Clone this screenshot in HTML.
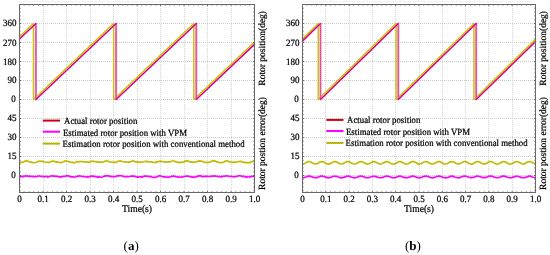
<!DOCTYPE html>
<html><head><meta charset="utf-8"><title>Rotor position estimation</title>
<style>
html,body{margin:0;padding:0;background:#fff;}
svg{display:block;}
text{font-family:'Liberation Serif','Times New Roman',serif;fill:#000;stroke:#000;stroke-width:0.22px;text-rendering:geometricPrecision;}
.gh{stroke:#cbcbcb;stroke-width:1;stroke-dasharray:1 1;fill:none;}
.gv{stroke:#d6d6d6;stroke-width:1;stroke-dasharray:1 1;fill:none;}
.fr{fill:none;stroke:#686868;stroke-width:1;}
.tk{fill:none;stroke:#686868;stroke-width:1;}
.cy{fill:none;stroke:#c2c800;stroke-width:1.5;stroke-linecap:round;}
.cyv{fill:none;stroke:#c4c414;stroke-width:1.5;}
.cm{fill:none;stroke:#f010c0;stroke-width:1.6;stroke-linecap:round;}
.cr{fill:none;stroke:#d00050;stroke-width:0.9;stroke-linecap:round;}
.cmv{fill:none;stroke:#ee70b0;stroke-width:2;}
.crv{fill:none;stroke:#e04890;stroke-width:0.8;}
.ly2{fill:none;stroke:#c0bc00;stroke-width:1.7;stroke-linejoin:round;}
.lm2{fill:none;stroke:#ff00ff;stroke-width:1.7;stroke-linejoin:round;}
.lr{stroke:#cc0010;stroke-width:2;}
.lm{stroke:#ff00ff;stroke-width:2;}
.ly{stroke:#b4b400;stroke-width:2;}
.yl{font-size:9px;text-anchor:end;}
.xl{font-size:9px;text-anchor:middle;}
.xt{font-size:9.6px;text-anchor:middle;}
.rl{font-size:9.5px;text-anchor:middle;}
.lg{font-size:8.8px;}
.pl{font-size:13px;text-anchor:middle;stroke:none;}
</style></head>
<body>
<svg width="550" height="255" viewBox="0 0 550 255">
<rect width="550" height="255" fill="#fff"/>
<path class="gv" d="M43.5 6V192M66.5 6V192M90.5 6V192M113.5 6V192M137.5 6V192M160.5 6V192M184.5 6V192M207.5 6V192M231.5 6V192"/>
<path class="gh" d="M21 23.5H254M21 42.5H254M21 61.5H254M21 80.5H254M21 99.5H254M21 118.5H254M21 137.5H254M21 156.5H254M21 175.5H254"/>
<path class="cyv" d="M33.45 23.5V99.5M113.65 23.5V99.5M193.85 23.5V99.5"/>
<path class="cy" d="M19.5 36.72L33.45 23.5M33.45 99.5L113.65 23.5M113.65 99.5L193.85 23.5M193.85 99.5L254.5 42.03"/>
<path class="cmv" d="M35.9 23.5V99.5M116.1 23.5V99.5M196.3 23.5V99.5"/>
<path class="crv" d="M35.9 23.5V99.5M116.1 23.5V99.5M196.3 23.5V99.5"/>
<path class="cm" d="M19.5 39.04L35.9 23.5M35.9 99.5L116.1 23.5M116.1 99.5L196.3 23.5M196.3 99.5L254.5 44.35"/>
<path class="cr" d="M19.5 39.04L35.9 23.5M35.9 99.5L116.1 23.5M116.1 99.5L196.3 23.5M196.3 99.5L254.5 44.35"/>
<polyline class="ly2" points="19.5,162.29 20.3,162.29 21.1,162.38 21.91,162.36 22.71,162.3 23.51,161.99 24.31,161.47 25.11,161.17 25.92,160.92 26.72,160.97 27.52,161.12 28.32,161.36 29.12,161.86 29.93,161.84 30.73,161.89 31.53,161.94 32.33,162.33 33.13,162.66 33.94,162.76 34.74,162.72 35.54,162.46 36.34,162.18 37.15,161.76 37.95,161.55 38.75,161.25 39.55,161.11 40.35,161.29 41.16,161.18 41.96,161.36 42.76,161.44 43.56,161.77 44.36,162.03 45.17,162.17 45.97,162.27 46.77,162.26 47.57,162.3 48.37,162.36 49.18,162.35 49.98,162.13 50.78,161.57 51.58,161.43 52.38,161.2 53.19,161.1 53.99,161.45 54.79,161.58 55.59,161.55 56.39,162.06 57.2,162.17 58,162.21 58.8,162.38 59.6,162.34 60.4,162.42 61.21,162.65 62.01,162.38 62.81,162.07 63.61,161.65 64.41,161.18 65.22,160.98 66.02,160.92 66.82,161.21 67.62,161.25 68.42,161.57 69.23,161.82 70.03,162.14 70.83,162.32 71.63,162.4 72.44,162.2 73.24,162.61 74.04,162.81 74.84,162.65 75.64,162.24 76.45,161.93 77.25,161.95 78.05,161.96 78.85,161.54 79.65,161.48 80.46,161.62 81.26,161.52 82.06,161.52 82.86,161.71 83.66,161.83 84.47,161.89 85.27,161.78 86.07,161.89 86.87,162.01 87.67,162.08 88.48,162.38 89.28,162.02 90.08,161.67 90.88,161.36 91.68,161.46 92.49,161.35 93.29,161.15 94.09,161.53 94.89,161.67 95.69,161.66 96.5,162.03 97.3,161.85 98.1,161.89 98.9,162.06 99.7,162.14 100.51,162.17 101.31,162.24 102.11,162.04 102.91,162.03 103.72,161.84 104.52,161.37 105.32,161.16 106.12,161.2 106.92,161.07 107.73,161.02 108.53,161.38 109.33,161.84 110.13,161.98 110.93,162.08 111.74,162.19 112.54,162.04 113.34,162.34 114.14,162.21 114.94,162.46 115.75,162.44 116.55,162.07 117.35,161.58 118.15,161.2 118.95,161 119.76,160.97 120.56,161.07 121.36,161.2 122.16,161.49 122.96,161.67 123.77,161.75 124.57,161.9 125.37,161.92 126.17,161.99 126.97,161.85 127.78,162 128.58,162.15 129.38,162.12 130.18,161.88 130.98,161.45 131.79,161.27 132.59,161.06 133.39,160.8 134.19,161.4 134.99,161.72 135.8,161.81 136.6,161.88 137.4,161.95 138.2,162.11 139.01,162.09 139.81,162.17 140.61,162.37 141.41,162.03 142.21,162.01 143.02,161.99 143.82,161.76 144.62,161.51 145.42,161.27 146.22,161.56 147.03,161.54 147.83,161.42 148.63,161.77 149.43,161.91 150.23,161.86 151.04,161.85 151.84,161.76 152.64,162.21 153.44,162.36 154.24,162.47 155.05,162.35 155.85,162.08 156.65,162.31 157.45,161.76 158.25,161.67 159.06,161.28 159.86,161.42 160.66,161.38 161.46,161.32 162.26,161.57 163.07,161.74 163.87,161.77 164.67,161.89 165.47,162.04 166.27,161.93 167.08,161.96 167.88,162.17 168.68,161.79 169.48,161.98 170.28,161.64 171.09,161.46 171.89,161.21 172.69,160.97 173.49,160.98 174.3,161.04 175.1,161.53 175.9,161.95 176.7,161.94 177.5,162.18 178.31,162.36 179.11,162.59 179.91,162.37 180.71,162.31 181.51,162.13 182.32,162.28 183.12,162.1 183.92,161.99 184.72,161.52 185.52,161.03 186.33,161.11 187.13,160.91 187.93,160.99 188.73,161.32 189.53,161.88 190.34,161.77 191.14,161.93 191.94,162.13 192.74,162.16 193.54,162.2 194.35,162.08 195.15,162.33 195.95,162.06 196.75,161.66 197.55,161.25 198.36,161.12 199.16,161.11 199.96,160.92 200.76,161.04 201.56,161.25 202.37,161.28 203.17,161.6 203.97,162.14 204.77,162.24 205.58,162.55 206.38,162.39 207.18,162.39 207.98,162.52 208.78,162.45 209.59,162.14 210.39,161.89 211.19,161.39 211.99,161.19 212.79,160.91 213.6,160.74 214.4,160.73 215.2,161.18 216,161.34 216.8,161.89 217.61,162.16 218.41,162.5 219.21,162.29 220.01,162.54 220.81,162.55 221.62,162.55 222.42,162.44 223.22,162.3 224.02,161.92 224.82,161.31 225.63,161.12 226.43,160.96 227.23,160.89 228.03,161.15 228.83,161.6 229.64,161.86 230.44,161.81 231.24,162.19 232.04,162.32 232.84,162.19 233.65,162.17 234.45,162.28 235.25,162.19 236.05,162.11 236.85,162.11 237.66,162.02 238.46,161.73 239.26,161.28 240.06,161.28 240.87,161.45 241.67,161.67 242.47,162.03 243.27,162.1 244.07,162.32 244.88,162.25 245.68,162.63 246.48,162.53 247.28,162.63 248.08,162.89 248.89,162.6 249.69,162.41 250.49,162.43 251.29,162.1 252.09,161.63 252.9,161.45 253.7,161.22 254.5,161.2"/>
<polyline class="lm2" points="19.5,176.7 20.3,176.74 21.1,176.6 21.91,176.54 22.71,176.44 23.51,176.65 24.31,176.27 25.11,175.92 25.92,175.95 26.72,176.07 27.52,175.88 28.32,176.37 29.12,176.42 29.93,176.16 30.73,176.49 31.53,176.49 32.33,176.33 33.13,176.54 33.94,176.59 34.74,176.55 35.54,176.71 36.34,176.6 37.15,176.37 37.95,176.07 38.75,175.99 39.55,176.01 40.35,176.22 41.16,176.36 41.96,176.32 42.76,176.44 43.56,176.68 44.36,176.84 45.17,176.44 45.97,176.42 46.77,176.49 47.57,177.03 48.37,176.88 49.18,176.7 49.98,176.29 50.78,176.11 51.58,176.01 52.38,175.88 53.19,176.22 53.99,176.09 54.79,176.18 55.59,176.45 56.39,176.35 57.2,176.21 58,176.61 58.8,176.79 59.6,176.8 60.4,176.83 61.21,176.93 62.01,177.02 62.81,176.52 63.61,176.23 64.41,176.29 65.22,176.34 66.02,175.94 66.82,175.84 67.62,175.74 68.42,175.88 69.23,176.28 70.03,176.39 70.83,176.84 71.63,176.95 72.44,176.95 73.24,176.88 74.04,177.03 74.84,177 75.64,176.83 76.45,176.61 77.25,176.33 78.05,176.13 78.85,176.08 79.65,175.92 80.46,176 81.26,176.27 82.06,176.49 82.86,176.58 83.66,176.66 84.47,176.68 85.27,176.73 86.07,176.77 86.87,176.86 87.67,177.08 88.48,176.94 89.28,176.66 90.08,176.45 90.88,176.31 91.68,176.08 92.49,176.15 93.29,176.4 94.09,176.37 94.89,176.57 95.69,176.5 96.5,176.75 97.3,177.17 98.1,177.22 98.9,176.88 99.7,176.96 100.51,177.18 101.31,177.23 102.11,177 102.91,176.75 103.72,176.52 104.52,176.09 105.32,175.88 106.12,175.88 106.92,175.86 107.73,175.78 108.53,175.89 109.33,175.99 110.13,176.4 110.93,176.54 111.74,176.52 112.54,176.68 113.34,176.61 114.14,176.63 114.94,176.57 115.75,176.63 116.55,176.14 117.35,175.91 118.15,175.9 118.95,175.85 119.76,175.49 120.56,175.76 121.36,175.85 122.16,175.95 122.96,176.2 123.77,176.55 124.57,176.6 125.37,176.62 126.17,176.54 126.97,176.56 127.78,176.68 128.58,176.59 129.38,176.49 130.18,176.37 130.98,176.22 131.79,176.12 132.59,175.92 133.39,176.12 134.19,176.27 134.99,176.36 135.8,176.69 136.6,176.79 137.4,177.1 138.2,177.12 139.01,176.96 139.81,176.87 140.61,176.92 141.41,176.96 142.21,177.11 143.02,176.62 143.82,176.38 144.62,176.05 145.42,176.1 146.22,176.06 147.03,176.36 147.83,176.25 148.63,176.23 149.43,176.67 150.23,176.72 151.04,176.65 151.84,176.97 152.64,177.23 153.44,177.32 154.24,177.32 155.05,177.4 155.85,177.17 156.65,176.87 157.45,176.51 158.25,176.18 159.06,175.83 159.86,175.69 160.66,176.05 161.46,176.26 162.26,176.55 163.07,176.78 163.87,176.8 164.67,176.8 165.47,176.74 166.27,177.04 167.08,177.22 167.88,177.15 168.68,177.08 169.48,176.96 170.28,176.74 171.09,176.6 171.89,176.24 172.69,176.06 173.49,176.07 174.3,176.24 175.1,176.37 175.9,176.89 176.7,177.01 177.5,176.94 178.31,177.13 179.11,177.02 179.91,176.98 180.71,177.2 181.51,177.16 182.32,177.08 183.12,176.81 183.92,176.5 184.72,176.3 185.52,176.27 186.33,176.17 187.13,176.17 187.93,176.13 188.73,176.24 189.53,176.5 190.34,176.8 191.14,176.85 191.94,176.96 192.74,177.11 193.54,177.09 194.35,177.14 195.15,177.05 195.95,176.85 196.75,176.74 197.55,176.16 198.36,176.1 199.16,175.83 199.96,175.85 200.76,175.79 201.56,176.36 202.37,176.58 203.17,176.6 203.97,176.57 204.77,176.28 205.58,176.4 206.38,176.37 207.18,176.44 207.98,176.46 208.78,176.49 209.59,176.53 210.39,176.35 211.19,176.38 211.99,176.01 212.79,176.11 213.6,176.05 214.4,175.81 215.2,176.07 216,176.26 216.8,176.25 217.61,176.41 218.41,176.65 219.21,176.68 220.01,176.68 220.81,176.67 221.62,176.87 222.42,176.56 223.22,176.26 224.02,176.21 224.82,176.05 225.63,176.03 226.43,175.77 227.23,175.98 228.03,176.01 228.83,176.27 229.64,176.52 230.44,176.49 231.24,176.38 232.04,176.52 232.84,176.74 233.65,176.69 234.45,176.79 235.25,176.77 236.05,176.5 236.85,176.27 237.66,176.26 238.46,175.77 239.26,175.77 240.06,175.71 240.87,175.96 241.67,176.13 242.47,176.56 243.27,176.36 244.07,176.28 244.88,176.62 245.68,176.92 246.48,177.17 247.28,176.94 248.08,177.02 248.89,176.97 249.69,176.89 250.49,176.69 251.29,176.62 252.09,176.36 252.9,176.42 253.7,176.31 254.5,176.27"/>
<path class="tk" d="M19.5 4.5v1.6M19.5 192.5v-1.6M24.2 4.5v1.1M24.2 192.5v-1.1M28.9 4.5v1.1M28.9 192.5v-1.1M33.6 4.5v1.1M33.6 192.5v-1.1M38.3 4.5v1.1M38.3 192.5v-1.1M43 4.5v1.6M43 192.5v-1.6M47.7 4.5v1.1M47.7 192.5v-1.1M52.4 4.5v1.1M52.4 192.5v-1.1M57.1 4.5v1.1M57.1 192.5v-1.1M61.8 4.5v1.1M61.8 192.5v-1.1M66.5 4.5v1.6M66.5 192.5v-1.6M71.2 4.5v1.1M71.2 192.5v-1.1M75.9 4.5v1.1M75.9 192.5v-1.1M80.6 4.5v1.1M80.6 192.5v-1.1M85.3 4.5v1.1M85.3 192.5v-1.1M90 4.5v1.6M90 192.5v-1.6M94.7 4.5v1.1M94.7 192.5v-1.1M99.4 4.5v1.1M99.4 192.5v-1.1M104.1 4.5v1.1M104.1 192.5v-1.1M108.8 4.5v1.1M108.8 192.5v-1.1M113.5 4.5v1.6M113.5 192.5v-1.6M118.2 4.5v1.1M118.2 192.5v-1.1M122.9 4.5v1.1M122.9 192.5v-1.1M127.6 4.5v1.1M127.6 192.5v-1.1M132.3 4.5v1.1M132.3 192.5v-1.1M137 4.5v1.6M137 192.5v-1.6M141.7 4.5v1.1M141.7 192.5v-1.1M146.4 4.5v1.1M146.4 192.5v-1.1M151.1 4.5v1.1M151.1 192.5v-1.1M155.8 4.5v1.1M155.8 192.5v-1.1M160.5 4.5v1.6M160.5 192.5v-1.6M165.2 4.5v1.1M165.2 192.5v-1.1M169.9 4.5v1.1M169.9 192.5v-1.1M174.6 4.5v1.1M174.6 192.5v-1.1M179.3 4.5v1.1M179.3 192.5v-1.1M184 4.5v1.6M184 192.5v-1.6M188.7 4.5v1.1M188.7 192.5v-1.1M193.4 4.5v1.1M193.4 192.5v-1.1M198.1 4.5v1.1M198.1 192.5v-1.1M202.8 4.5v1.1M202.8 192.5v-1.1M207.5 4.5v1.6M207.5 192.5v-1.6M212.2 4.5v1.1M212.2 192.5v-1.1M216.9 4.5v1.1M216.9 192.5v-1.1M221.6 4.5v1.1M221.6 192.5v-1.1M226.3 4.5v1.1M226.3 192.5v-1.1M231 4.5v1.6M231 192.5v-1.6M235.7 4.5v1.1M235.7 192.5v-1.1M240.4 4.5v1.1M240.4 192.5v-1.1M245.1 4.5v1.1M245.1 192.5v-1.1M249.8 4.5v1.1M249.8 192.5v-1.1M254.5 4.5v1.6M254.5 192.5v-1.6M19.5 4.5h1.6M254.5 4.5h-1.6M19.5 8.3h1.1M254.5 8.3h-1.1M19.5 12.1h1.1M254.5 12.1h-1.1M19.5 15.9h1.1M254.5 15.9h-1.1M19.5 19.7h1.1M254.5 19.7h-1.1M19.5 23.5h1.6M254.5 23.5h-1.6M19.5 27.3h1.1M254.5 27.3h-1.1M19.5 31.1h1.1M254.5 31.1h-1.1M19.5 34.9h1.1M254.5 34.9h-1.1M19.5 38.7h1.1M254.5 38.7h-1.1M19.5 42.5h1.6M254.5 42.5h-1.6M19.5 46.3h1.1M254.5 46.3h-1.1M19.5 50.1h1.1M254.5 50.1h-1.1M19.5 53.9h1.1M254.5 53.9h-1.1M19.5 57.7h1.1M254.5 57.7h-1.1M19.5 61.5h1.6M254.5 61.5h-1.6M19.5 65.3h1.1M254.5 65.3h-1.1M19.5 69.1h1.1M254.5 69.1h-1.1M19.5 72.9h1.1M254.5 72.9h-1.1M19.5 76.7h1.1M254.5 76.7h-1.1M19.5 80.5h1.6M254.5 80.5h-1.6M19.5 84.3h1.1M254.5 84.3h-1.1M19.5 88.1h1.1M254.5 88.1h-1.1M19.5 91.9h1.1M254.5 91.9h-1.1M19.5 95.7h1.1M254.5 95.7h-1.1M19.5 99.5h1.6M254.5 99.5h-1.6M19.5 103.3h1.1M254.5 103.3h-1.1M19.5 107.1h1.1M254.5 107.1h-1.1M19.5 110.9h1.1M254.5 110.9h-1.1M19.5 114.7h1.1M254.5 114.7h-1.1M19.5 118.5h1.6M254.5 118.5h-1.6M19.5 122.3h1.1M254.5 122.3h-1.1M19.5 126.1h1.1M254.5 126.1h-1.1M19.5 129.9h1.1M254.5 129.9h-1.1M19.5 133.7h1.1M254.5 133.7h-1.1M19.5 137.5h1.6M254.5 137.5h-1.6M19.5 141.3h1.1M254.5 141.3h-1.1M19.5 145.1h1.1M254.5 145.1h-1.1M19.5 148.9h1.1M254.5 148.9h-1.1M19.5 152.7h1.1M254.5 152.7h-1.1M19.5 156.5h1.6M254.5 156.5h-1.6M19.5 160.3h1.1M254.5 160.3h-1.1M19.5 164.1h1.1M254.5 164.1h-1.1M19.5 167.9h1.1M254.5 167.9h-1.1M19.5 171.7h1.1M254.5 171.7h-1.1M19.5 175.5h1.6M254.5 175.5h-1.6M19.5 179.3h1.1M254.5 179.3h-1.1M19.5 183.1h1.1M254.5 183.1h-1.1M19.5 186.9h1.1M254.5 186.9h-1.1M19.5 190.7h1.1M254.5 190.7h-1.1"/>
<line x1="19.5" y1="1.5" x2="250.5" y2="1.5" stroke="#f0f0f0" stroke-width="1"/>
<rect x="19.5" y="4.5" width="235" height="188" class="fr"/>
<text transform="translate(16.5,25.7) scale(1,1.07)" class="yl">360</text>
<text transform="translate(16.5,46) scale(1,1.07)" class="yl">270</text>
<text transform="translate(16.5,65) scale(1,1.07)" class="yl">180</text>
<text transform="translate(16.5,82.8) scale(1,1.07)" class="yl">90</text>
<text transform="translate(15.8,101.7) scale(1,1.07)" class="yl">0</text>
<text transform="translate(16.5,120.5) scale(1,1.07)" class="yl">45</text>
<text transform="translate(16.5,139.5) scale(1,1.07)" class="yl">30</text>
<text transform="translate(16.5,158.7) scale(1,1.07)" class="yl">15</text>
<text transform="translate(15.8,177.6) scale(1,1.07)" class="yl">0</text>
<text transform="translate(19.5,201.8) scale(1,1.07)" class="xl">0</text>
<text transform="translate(43,201.8) scale(1,1.07)" class="xl">0.1</text>
<text transform="translate(66.5,201.8) scale(1,1.07)" class="xl">0.2</text>
<text transform="translate(90,201.8) scale(1,1.07)" class="xl">0.3</text>
<text transform="translate(113.5,201.8) scale(1,1.07)" class="xl">0.4</text>
<text transform="translate(137,201.8) scale(1,1.07)" class="xl">0.5</text>
<text transform="translate(160.5,201.8) scale(1,1.07)" class="xl">0.6</text>
<text transform="translate(184,201.8) scale(1,1.07)" class="xl">0.7</text>
<text transform="translate(207.5,201.8) scale(1,1.07)" class="xl">0.8</text>
<text transform="translate(231,201.8) scale(1,1.07)" class="xl">0.9</text>
<text transform="translate(254.5,201.8) scale(1,1.07)" class="xl">1.0</text>
<text transform="translate(137,212.3) scale(1,1.07)" class="xt">Time(s)</text>
<text transform="translate(264.9,48.3) rotate(-90)" class="rl">Rotor position(deg)</text>
<text transform="translate(264.9,143.5) rotate(-90)" class="rl">Rotor postion error(deg)</text>
<line x1="42.8" y1="120.6" x2="60" y2="120.6" class="lr"/>
<text transform="translate(64.1,123.9) scale(1,1.07)" class="lg">Actual rotor position</text>
<line x1="42.8" y1="131.7" x2="60" y2="131.7" class="lm"/>
<text transform="translate(63,135.6) scale(1,1.07)" class="lg">Estimated rotor position with VPM</text>
<line x1="42.8" y1="143.6" x2="60" y2="143.6" class="ly"/>
<text transform="translate(62.6,146.9) scale(1,1.07)" class="lg">Estimation rotor position with conventional method</text>
<text x="131.2" y="250.2" class="pl">(<tspan font-weight="bold">a</tspan>)</text>
<path class="gv" d="M325.5 6V192M349.5 6V192M372.5 6V192M395.5 6V192M419.5 6V192M442.5 6V192M465.5 6V192M488.5 6V192M512.5 6V192"/>
<path class="gh" d="M304 23.5H535M304 42.5H535M304 61.5H535M304 80.5H535M304 99.5H535M304 118.5H535M304 137.5H535M304 156.5H535M304 175.5H535"/>
<path class="cyv" d="M318.25 23.5V99.5M396.05 23.5V99.5M473.95 23.5V99.5"/>
<path class="cy" d="M302.5 38.88L318.25 23.5M318.25 99.5L396.05 23.5M396.05 99.5L473.95 23.5M473.95 99.5L535.5 39.41"/>
<path class="cmv" d="M320.5 23.5V99.5M398.3 23.5V99.5M476.2 23.5V99.5"/>
<path class="crv" d="M320.5 23.5V99.5M398.3 23.5V99.5M476.2 23.5V99.5"/>
<path class="cm" d="M302.5 41.07L320.5 23.5M320.5 99.5L398.3 23.5M398.3 99.5L476.2 23.5M476.2 99.5L535.5 41.61"/>
<path class="cr" d="M302.5 41.07L320.5 23.5M320.5 99.5L398.3 23.5M398.3 99.5L476.2 23.5M476.2 99.5L535.5 41.61"/>
<polyline class="ly2" points="302.5,164.01 303.3,163.95 304.1,163.75 304.9,163.35 305.7,162.92 306.5,162.37 307.3,161.95 308.1,161.7 308.91,161.62 309.71,161.72 310.51,161.99 311.31,162.36 312.11,162.77 312.91,163.2 313.71,163.57 314.51,163.77 315.31,163.98 316.11,163.95 316.91,163.6 317.71,163.39 318.51,162.98 319.31,162.51 320.12,162.09 320.92,161.77 321.72,161.63 322.52,161.64 323.32,161.85 324.12,162.16 324.92,162.7 325.72,163.19 326.52,163.59 327.32,163.94 328.12,164.14 328.92,164.06 329.72,163.9 330.52,163.51 331.32,163.04 332.13,162.57 332.93,162.13 333.73,161.81 334.53,161.71 335.33,161.68 336.13,161.82 336.93,162.16 337.73,162.58 338.53,162.99 339.33,163.48 340.13,163.78 340.93,163.9 341.73,163.98 342.53,163.84 343.34,163.56 344.14,163.07 344.94,162.62 345.74,162.16 346.54,161.86 347.34,161.66 348.14,161.62 348.94,161.84 349.74,162.04 350.54,162.4 351.34,162.97 352.14,163.36 352.94,163.74 353.74,163.95 354.54,164 355.35,163.98 356.15,163.7 356.95,163.21 357.75,162.79 358.55,162.39 359.35,162.07 360.15,161.85 360.95,161.71 361.75,161.69 362.55,161.94 363.35,162.33 364.15,162.68 364.95,163.21 365.75,163.65 366.55,163.9 367.36,163.98 368.16,163.97 368.96,163.78 369.76,163.37 370.56,162.9 371.36,162.51 372.16,162.09 372.96,161.82 373.76,161.66 374.56,161.72 375.36,161.94 376.16,162.32 376.96,162.7 377.76,163.1 378.57,163.55 379.37,163.82 380.17,164.02 380.97,163.98 381.77,163.73 382.57,163.32 383.37,162.93 384.17,162.49 384.97,162.07 385.77,161.85 386.57,161.68 387.37,161.72 388.17,161.88 388.97,162.27 389.77,162.79 390.58,163.2 391.38,163.58 392.18,163.91 392.98,164.02 393.78,164.03 394.58,163.88 395.38,163.51 396.18,163.16 396.98,162.71 397.78,162.25 398.58,161.85 399.38,161.67 400.18,161.64 400.98,161.83 401.79,162.12 402.59,162.46 403.39,162.98 404.19,163.31 404.99,163.73 405.79,163.95 406.59,163.99 407.39,163.8 408.19,163.59 408.99,163.28 409.79,162.76 410.59,162.26 411.39,161.87 412.19,161.53 412.99,161.51 413.8,161.66 414.6,161.93 415.4,162.35 416.2,162.75 417,163.31 417.8,163.72 418.6,164.13 419.4,164.11 420.2,164 421,163.66 421.8,163.16 422.6,162.73 423.4,162.31 424.2,161.97 425.01,161.76 425.81,161.69 426.61,161.73 427.41,161.98 428.21,162.36 429.01,162.82 429.81,163.23 430.61,163.61 431.41,163.9 432.21,163.98 433.01,163.93 433.81,163.76 434.61,163.3 435.41,162.84 436.21,162.45 437.02,161.99 437.82,161.71 438.62,161.68 439.42,161.64 440.22,161.86 441.02,162.19 441.82,162.65 442.62,163.14 443.42,163.64 444.22,163.87 445.02,164.02 445.82,164 446.62,163.77 447.42,163.42 448.23,162.95 449.03,162.52 449.83,162.11 450.63,161.91 451.43,161.74 452.23,161.69 453.03,161.81 453.83,162.18 454.63,162.62 455.43,163 456.23,163.47 457.03,163.77 457.83,163.88 458.63,163.92 459.43,163.71 460.24,163.46 461.04,163.04 461.84,162.6 462.64,162.17 463.44,161.78 464.24,161.49 465.04,161.56 465.84,161.77 466.64,162.06 467.44,162.55 468.24,162.98 469.04,163.39 469.84,163.77 470.64,163.96 471.45,164.08 472.25,163.89 473.05,163.67 473.85,163.27 474.65,162.81 475.45,162.36 476.25,161.93 477.05,161.7 477.85,161.66 478.65,161.75 479.45,161.95 480.25,162.38 481.05,162.84 481.85,163.24 482.65,163.63 483.46,163.97 484.26,163.91 485.06,163.73 485.86,163.63 486.66,163.25 487.46,162.78 488.26,162.29 489.06,161.89 489.86,161.68 490.66,161.65 491.46,161.73 492.26,161.92 493.06,162.37 493.86,162.87 494.66,163.31 495.47,163.79 496.27,164.03 497.07,164.13 497.87,164.01 498.67,163.8 499.47,163.45 500.27,163 501.07,162.51 501.87,162.13 502.67,161.82 503.47,161.63 504.27,161.62 505.07,161.78 505.87,162.21 506.68,162.69 507.48,163.28 508.28,163.57 509.08,163.91 509.88,164.05 510.68,163.98 511.48,163.85 512.28,163.46 513.08,163.02 513.88,162.65 514.68,162.18 515.48,161.79 516.28,161.73 517.08,161.67 517.88,161.85 518.69,162.16 519.49,162.57 520.29,162.98 521.09,163.45 521.89,163.75 522.69,163.97 523.49,163.95 524.29,163.84 525.09,163.53 525.89,163.02 526.69,162.56 527.49,162.15 528.29,161.89 529.09,161.72 529.9,161.67 530.7,161.77 531.5,162.06 532.3,162.46 533.1,162.94 533.9,163.33 534.7,163.73 535.5,163.98"/>
<polyline class="lm2" points="302.5,177.73 303.3,177.69 304.1,177.54 304.9,177.32 305.7,177.02 306.5,176.66 307.3,176.38 308.1,176.26 308.91,176.14 309.71,176.17 310.51,176.38 311.31,176.58 312.11,176.9 312.91,177.23 313.71,177.46 314.51,177.6 315.31,177.75 316.11,177.71 316.91,177.62 317.71,177.25 318.51,177 319.31,176.64 320.12,176.42 320.92,176.18 321.72,175.98 322.52,176.18 323.32,176.33 324.12,176.53 324.92,176.83 325.72,177.18 326.52,177.35 327.32,177.59 328.12,177.81 328.92,177.75 329.72,177.71 330.52,177.41 331.32,177.14 332.13,176.81 332.93,176.45 333.73,176.23 334.53,176.19 335.33,176.26 336.13,176.28 336.93,176.45 337.73,176.79 338.53,177.05 339.33,177.34 340.13,177.55 340.93,177.82 341.73,177.84 342.53,177.67 343.34,177.43 344.14,177.11 344.94,176.94 345.74,176.61 346.54,176.32 347.34,176.04 348.14,176.1 348.94,176.22 349.74,176.41 350.54,176.65 351.34,177 352.14,177.25 352.94,177.57 353.74,177.72 354.54,177.79 355.35,177.7 356.15,177.55 356.95,177.35 357.75,176.95 358.55,176.62 359.35,176.39 360.15,176.2 360.95,176.09 361.75,176.22 362.55,176.39 363.35,176.63 364.15,176.91 364.95,177.25 365.75,177.63 366.55,177.72 367.36,177.77 368.16,177.72 368.96,177.57 369.76,177.3 370.56,177.01 371.36,176.75 372.16,176.49 372.96,176.3 373.76,176.23 374.56,176.3 375.36,176.39 376.16,176.68 376.96,176.92 377.76,177.28 378.57,177.52 379.37,177.64 380.17,177.73 380.97,177.76 381.77,177.61 382.57,177.36 383.37,177.15 384.17,176.83 384.97,176.51 385.77,176.31 386.57,176.18 387.37,176.15 388.17,176.25 388.97,176.45 389.77,176.74 390.58,177.09 391.38,177.4 392.18,177.64 392.98,177.78 393.78,177.78 394.58,177.74 395.38,177.5 396.18,177.19 396.98,176.9 397.78,176.58 398.58,176.3 399.38,176.18 400.18,176.05 400.98,176.32 401.79,176.53 402.59,176.89 403.39,177.12 404.19,177.27 404.99,177.66 405.79,177.78 406.59,177.77 407.39,177.69 408.19,177.45 408.99,177.29 409.79,176.9 410.59,176.57 411.39,176.32 412.19,176.2 412.99,176.12 413.8,176.24 414.6,176.42 415.4,176.72 416.2,177.14 417,177.41 417.8,177.62 418.6,177.73 419.4,177.82 420.2,177.74 421,177.51 421.8,177.24 422.6,176.87 423.4,176.48 424.2,176.31 425.01,176.25 425.81,176.13 426.61,176.11 427.41,176.27 428.21,176.52 429.01,176.89 429.81,177.26 430.61,177.48 431.41,177.72 432.21,177.88 433.01,177.85 433.81,177.53 434.61,177.18 435.41,176.95 436.21,176.69 437.02,176.4 437.82,176.25 438.62,176.09 439.42,176.14 440.22,176.36 441.02,176.53 441.82,176.88 442.62,177.18 443.42,177.47 444.22,177.69 445.02,177.77 445.82,177.78 446.62,177.72 447.42,177.56 448.23,177.27 449.03,176.93 449.83,176.59 450.63,176.34 451.43,176.17 452.23,176.17 453.03,176.34 453.83,176.59 454.63,176.97 455.43,177.25 456.23,177.48 457.03,177.66 457.83,177.78 458.63,177.78 459.43,177.61 460.24,177.4 461.04,177.08 461.84,176.75 462.64,176.46 463.44,176.18 464.24,176.11 465.04,176.13 465.84,176.28 466.64,176.53 467.44,176.71 468.24,176.95 469.04,177.29 469.84,177.52 470.64,177.63 471.45,177.65 472.25,177.53 473.05,177.44 473.85,177.2 474.65,176.86 475.45,176.49 476.25,176.26 477.05,176.17 477.85,176.15 478.65,176.26 479.45,176.49 480.25,176.66 481.05,177.02 481.85,177.32 482.65,177.46 483.46,177.6 484.26,177.67 485.06,177.66 485.86,177.47 486.66,177.14 487.46,176.83 488.26,176.49 489.06,176.27 489.86,176.1 490.66,176.07 491.46,176.13 492.26,176.25 493.06,176.62 493.86,176.93 494.66,177.24 495.47,177.54 496.27,177.73 497.07,177.76 497.87,177.62 498.67,177.46 499.47,177.22 500.27,177.02 501.07,176.61 501.87,176.35 502.67,176.18 503.47,176.16 504.27,176.19 505.07,176.39 505.87,176.61 506.68,176.88 507.48,177.19 508.28,177.46 509.08,177.71 509.88,177.73 510.68,177.75 511.48,177.7 512.28,177.45 513.08,177.17 513.88,176.87 514.68,176.57 515.48,176.31 516.28,176.24 517.08,176.23 517.88,176.26 518.69,176.46 519.49,176.78 520.29,177.1 521.09,177.4 521.89,177.63 522.69,177.72 523.49,177.74 524.29,177.75 525.09,177.5 525.89,177.24 526.69,176.86 527.49,176.58 528.29,176.32 529.09,176.07 529.9,176.13 530.7,176.3 531.5,176.56 532.3,176.94 533.1,177.29 533.9,177.5 534.7,177.73 535.5,177.93"/>
<path class="tk" d="M302.5 4.5v1.6M302.5 192.5v-1.6M307.16 4.5v1.1M307.16 192.5v-1.1M311.82 4.5v1.1M311.82 192.5v-1.1M316.48 4.5v1.1M316.48 192.5v-1.1M321.14 4.5v1.1M321.14 192.5v-1.1M325.8 4.5v1.6M325.8 192.5v-1.6M330.46 4.5v1.1M330.46 192.5v-1.1M335.12 4.5v1.1M335.12 192.5v-1.1M339.78 4.5v1.1M339.78 192.5v-1.1M344.44 4.5v1.1M344.44 192.5v-1.1M349.1 4.5v1.6M349.1 192.5v-1.6M353.76 4.5v1.1M353.76 192.5v-1.1M358.42 4.5v1.1M358.42 192.5v-1.1M363.08 4.5v1.1M363.08 192.5v-1.1M367.74 4.5v1.1M367.74 192.5v-1.1M372.4 4.5v1.6M372.4 192.5v-1.6M377.06 4.5v1.1M377.06 192.5v-1.1M381.72 4.5v1.1M381.72 192.5v-1.1M386.38 4.5v1.1M386.38 192.5v-1.1M391.04 4.5v1.1M391.04 192.5v-1.1M395.7 4.5v1.6M395.7 192.5v-1.6M400.36 4.5v1.1M400.36 192.5v-1.1M405.02 4.5v1.1M405.02 192.5v-1.1M409.68 4.5v1.1M409.68 192.5v-1.1M414.34 4.5v1.1M414.34 192.5v-1.1M419 4.5v1.6M419 192.5v-1.6M423.66 4.5v1.1M423.66 192.5v-1.1M428.32 4.5v1.1M428.32 192.5v-1.1M432.98 4.5v1.1M432.98 192.5v-1.1M437.64 4.5v1.1M437.64 192.5v-1.1M442.3 4.5v1.6M442.3 192.5v-1.6M446.96 4.5v1.1M446.96 192.5v-1.1M451.62 4.5v1.1M451.62 192.5v-1.1M456.28 4.5v1.1M456.28 192.5v-1.1M460.94 4.5v1.1M460.94 192.5v-1.1M465.6 4.5v1.6M465.6 192.5v-1.6M470.26 4.5v1.1M470.26 192.5v-1.1M474.92 4.5v1.1M474.92 192.5v-1.1M479.58 4.5v1.1M479.58 192.5v-1.1M484.24 4.5v1.1M484.24 192.5v-1.1M488.9 4.5v1.6M488.9 192.5v-1.6M493.56 4.5v1.1M493.56 192.5v-1.1M498.22 4.5v1.1M498.22 192.5v-1.1M502.88 4.5v1.1M502.88 192.5v-1.1M507.54 4.5v1.1M507.54 192.5v-1.1M512.2 4.5v1.6M512.2 192.5v-1.6M516.86 4.5v1.1M516.86 192.5v-1.1M521.52 4.5v1.1M521.52 192.5v-1.1M526.18 4.5v1.1M526.18 192.5v-1.1M530.84 4.5v1.1M530.84 192.5v-1.1M535.5 4.5v1.6M535.5 192.5v-1.6M302.5 4.5h1.6M535.5 4.5h-1.6M302.5 8.3h1.1M535.5 8.3h-1.1M302.5 12.1h1.1M535.5 12.1h-1.1M302.5 15.9h1.1M535.5 15.9h-1.1M302.5 19.7h1.1M535.5 19.7h-1.1M302.5 23.5h1.6M535.5 23.5h-1.6M302.5 27.3h1.1M535.5 27.3h-1.1M302.5 31.1h1.1M535.5 31.1h-1.1M302.5 34.9h1.1M535.5 34.9h-1.1M302.5 38.7h1.1M535.5 38.7h-1.1M302.5 42.5h1.6M535.5 42.5h-1.6M302.5 46.3h1.1M535.5 46.3h-1.1M302.5 50.1h1.1M535.5 50.1h-1.1M302.5 53.9h1.1M535.5 53.9h-1.1M302.5 57.7h1.1M535.5 57.7h-1.1M302.5 61.5h1.6M535.5 61.5h-1.6M302.5 65.3h1.1M535.5 65.3h-1.1M302.5 69.1h1.1M535.5 69.1h-1.1M302.5 72.9h1.1M535.5 72.9h-1.1M302.5 76.7h1.1M535.5 76.7h-1.1M302.5 80.5h1.6M535.5 80.5h-1.6M302.5 84.3h1.1M535.5 84.3h-1.1M302.5 88.1h1.1M535.5 88.1h-1.1M302.5 91.9h1.1M535.5 91.9h-1.1M302.5 95.7h1.1M535.5 95.7h-1.1M302.5 99.5h1.6M535.5 99.5h-1.6M302.5 103.3h1.1M535.5 103.3h-1.1M302.5 107.1h1.1M535.5 107.1h-1.1M302.5 110.9h1.1M535.5 110.9h-1.1M302.5 114.7h1.1M535.5 114.7h-1.1M302.5 118.5h1.6M535.5 118.5h-1.6M302.5 122.3h1.1M535.5 122.3h-1.1M302.5 126.1h1.1M535.5 126.1h-1.1M302.5 129.9h1.1M535.5 129.9h-1.1M302.5 133.7h1.1M535.5 133.7h-1.1M302.5 137.5h1.6M535.5 137.5h-1.6M302.5 141.3h1.1M535.5 141.3h-1.1M302.5 145.1h1.1M535.5 145.1h-1.1M302.5 148.9h1.1M535.5 148.9h-1.1M302.5 152.7h1.1M535.5 152.7h-1.1M302.5 156.5h1.6M535.5 156.5h-1.6M302.5 160.3h1.1M535.5 160.3h-1.1M302.5 164.1h1.1M535.5 164.1h-1.1M302.5 167.9h1.1M535.5 167.9h-1.1M302.5 171.7h1.1M535.5 171.7h-1.1M302.5 175.5h1.6M535.5 175.5h-1.6M302.5 179.3h1.1M535.5 179.3h-1.1M302.5 183.1h1.1M535.5 183.1h-1.1M302.5 186.9h1.1M535.5 186.9h-1.1M302.5 190.7h1.1M535.5 190.7h-1.1"/>
<line x1="302.5" y1="1.5" x2="531.5" y2="1.5" stroke="#f0f0f0" stroke-width="1"/>
<rect x="302.5" y="4.5" width="233" height="188" class="fr"/>
<text transform="translate(299.5,25.7) scale(1,1.07)" class="yl">360</text>
<text transform="translate(299.5,46) scale(1,1.07)" class="yl">270</text>
<text transform="translate(299.5,65) scale(1,1.07)" class="yl">180</text>
<text transform="translate(299.5,82.8) scale(1,1.07)" class="yl">90</text>
<text transform="translate(298.8,101.7) scale(1,1.07)" class="yl">0</text>
<text transform="translate(299.5,120.5) scale(1,1.07)" class="yl">45</text>
<text transform="translate(299.5,139.5) scale(1,1.07)" class="yl">30</text>
<text transform="translate(299.5,158.7) scale(1,1.07)" class="yl">15</text>
<text transform="translate(298.8,177.6) scale(1,1.07)" class="yl">0</text>
<text transform="translate(302.5,201.8) scale(1,1.07)" class="xl">0</text>
<text transform="translate(325.8,201.8) scale(1,1.07)" class="xl">0.1</text>
<text transform="translate(349.1,201.8) scale(1,1.07)" class="xl">0.2</text>
<text transform="translate(372.4,201.8) scale(1,1.07)" class="xl">0.3</text>
<text transform="translate(395.7,201.8) scale(1,1.07)" class="xl">0.4</text>
<text transform="translate(419,201.8) scale(1,1.07)" class="xl">0.5</text>
<text transform="translate(442.3,201.8) scale(1,1.07)" class="xl">0.6</text>
<text transform="translate(465.6,201.8) scale(1,1.07)" class="xl">0.7</text>
<text transform="translate(488.9,201.8) scale(1,1.07)" class="xl">0.8</text>
<text transform="translate(512.2,201.8) scale(1,1.07)" class="xl">0.9</text>
<text transform="translate(535.5,201.8) scale(1,1.07)" class="xl">1.0</text>
<text transform="translate(419,212.3) scale(1,1.07)" class="xt">Time(s)</text>
<text transform="translate(545.9,48.3) rotate(-90)" class="rl">Rotor position(deg)</text>
<text transform="translate(545.9,143.5) rotate(-90)" class="rl">Rotor postion error(deg)</text>
<line x1="326.3" y1="119.9" x2="343.5" y2="119.9" class="lr"/>
<text transform="translate(347.1,123.2) scale(1,1.07)" class="lg">Actual rotor position</text>
<line x1="326.3" y1="131" x2="343.5" y2="131" class="lm"/>
<text transform="translate(346,134.9) scale(1,1.07)" class="lg">Estimated rotor position with VPM</text>
<line x1="326.3" y1="142.9" x2="343.5" y2="142.9" class="ly"/>
<text transform="translate(345.6,146.2) scale(1,1.07)" class="lg">Estimation rotor position with conventional method</text>
<text x="412.9" y="250.2" class="pl">(<tspan font-weight="bold">b</tspan>)</text>
</svg>
</body></html>
